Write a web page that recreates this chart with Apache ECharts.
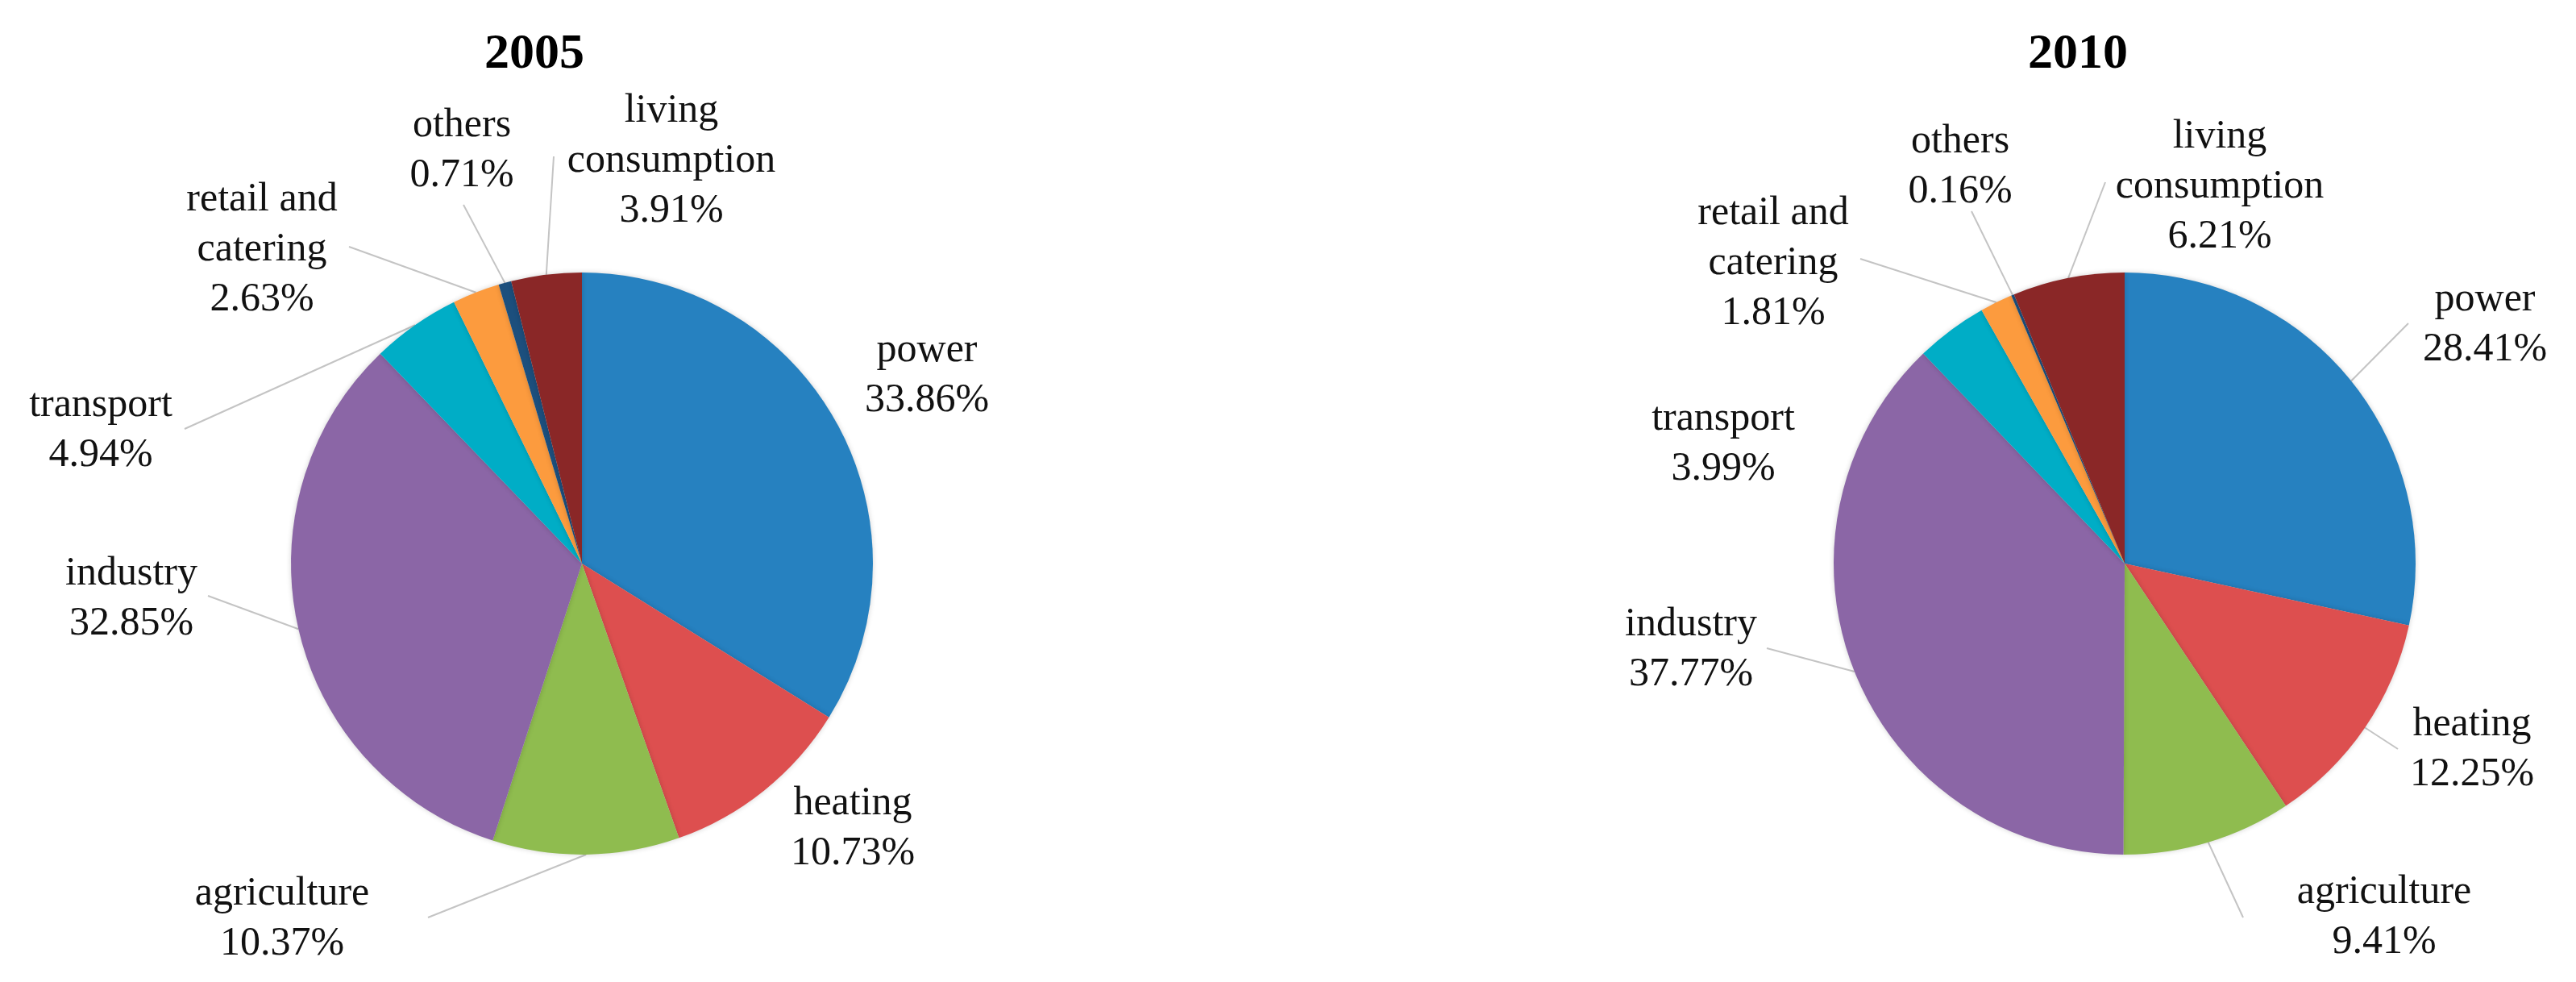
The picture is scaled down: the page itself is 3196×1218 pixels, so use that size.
<!DOCTYPE html>
<html>
<head>
<meta charset="utf-8">
<script src="https://cdn.jsdelivr.net/npm/echarts@6/dist/echarts.min.js"></script>
<style>
html,body{margin:0;padding:0;background:#fff;}
#chart{width:3196px;height:1218px;}
</style>
</head>
<body>
<div id="chart"></div>
<script>
// ---- data ----
var categories = ['power', 'heating', 'agriculture', 'industry', 'transport', 'retail and catering', 'others', 'living consumption'];
var labelNames = ['power', 'heating', 'agriculture', 'industry', 'transport', 'retail and\ncatering', 'others', 'living\nconsumption'];
var values2005 = [33.86, 10.73, 10.37, 32.85, 4.94, 2.63, 0.71, 3.91];
var values2010 = [28.41, 12.25, 9.41, 37.77, 3.99, 1.81, 0.16, 6.21];
var titles = ['2005', '2010'];
var colors = ['#2681c0', '#dd4f4f', '#8fbc4f', '#8b66a6', '#00adc6', '#fc9b3e', '#1c4f7d', '#8a2727'];

// ---- layout (label placement, leader line ends) ----
var labelPos = [
  [[1150, 466], [1058, 1028], [350, 1140], [163, 743], [125, 534], [325, 310], [573, 187], [833, 200]],
  [[3083, 403], [3067, 930], [2958, 1138], [2098, 806], [2138, 551], [2200, 327], [2432, 207], [2754, 232]]
];
var lineEnd = [
  [null, null, [531, 1138], [258, 739], [229, 532], [433, 306], [575, 254], [687, 194]],
  [[2988, 401], [2975, 929], [2783, 1138], [2192, 804], null, [2308, 321], [2446, 262], [2612, 226]]
];
var centers = [[722, 699], [2636, 699]];
var radius = 361;

function buildData(vals, si) {
  return categories.map(function (c, i) {
    return {
      name: c,
      value: vals[i],
      labelLine: { show: lineEnd[si][i] != null }
    };
  });
}

function makeSeries(vals, si) {
  return {
    type: 'pie',
    center: centers[si],
    radius: radius,
    startAngle: 90,
    clockwise: true,
    avoidLabelOverlap: false,
    animation: false,
    data: buildData(vals, si),
    itemStyle: {
      borderWidth: 0,
      shadowBlur: 6,
      shadowColor: 'rgba(0,0,0,0.18)'
    },
    label: {
      show: true,
      position: 'outside',
      fontFamily: '"Liberation Serif", "Times New Roman", serif',
      fontSize: 50,
      lineHeight: 62,
      color: '#111',
      align: 'center',
      formatter: function (p) {
        return labelNames[p.dataIndex] + '\n' + p.value.toFixed(2) + '%';
      }
    },
    labelLine: {
      show: true,
      lineStyle: { color: '#c4c4c4', width: 2 }
    },
    labelLayout: function (params) {
      var i = params.dataIndex;
      var pos = labelPos[si][i];
      var res = { x: pos[0], y: pos[1], align: 'center', verticalAlign: 'middle' };
      var e = lineEnd[si][i];
      if (e && params.labelLinePoints) {
        var p0 = params.labelLinePoints[0];
        res.labelLinePoints = [[p0[0], p0[1]], [e[0], e[1]], [e[0], e[1]]];
      }
      return res;
    }
  };
}

var chart = echarts.init(document.getElementById('chart'), null, { renderer: 'canvas' });
chart.setOption({
  backgroundColor: '#ffffff',
  color: colors,
  title: [
    { text: titles[0], left: 658, top: 63, textAlign: 'center', textVerticalAlign: 'middle',
      textStyle: { fontFamily: '"Liberation Serif", "Times New Roman", serif', fontWeight: 'bold', fontSize: 62, color: '#000' } },
    { text: titles[1], left: 2573, top: 63, textAlign: 'center', textVerticalAlign: 'middle',
      textStyle: { fontFamily: '"Liberation Serif", "Times New Roman", serif', fontWeight: 'bold', fontSize: 62, color: '#000' } }
  ],
  series: [makeSeries(values2005, 0), makeSeries(values2010, 1)]
});
</script>
</body>
</html>
